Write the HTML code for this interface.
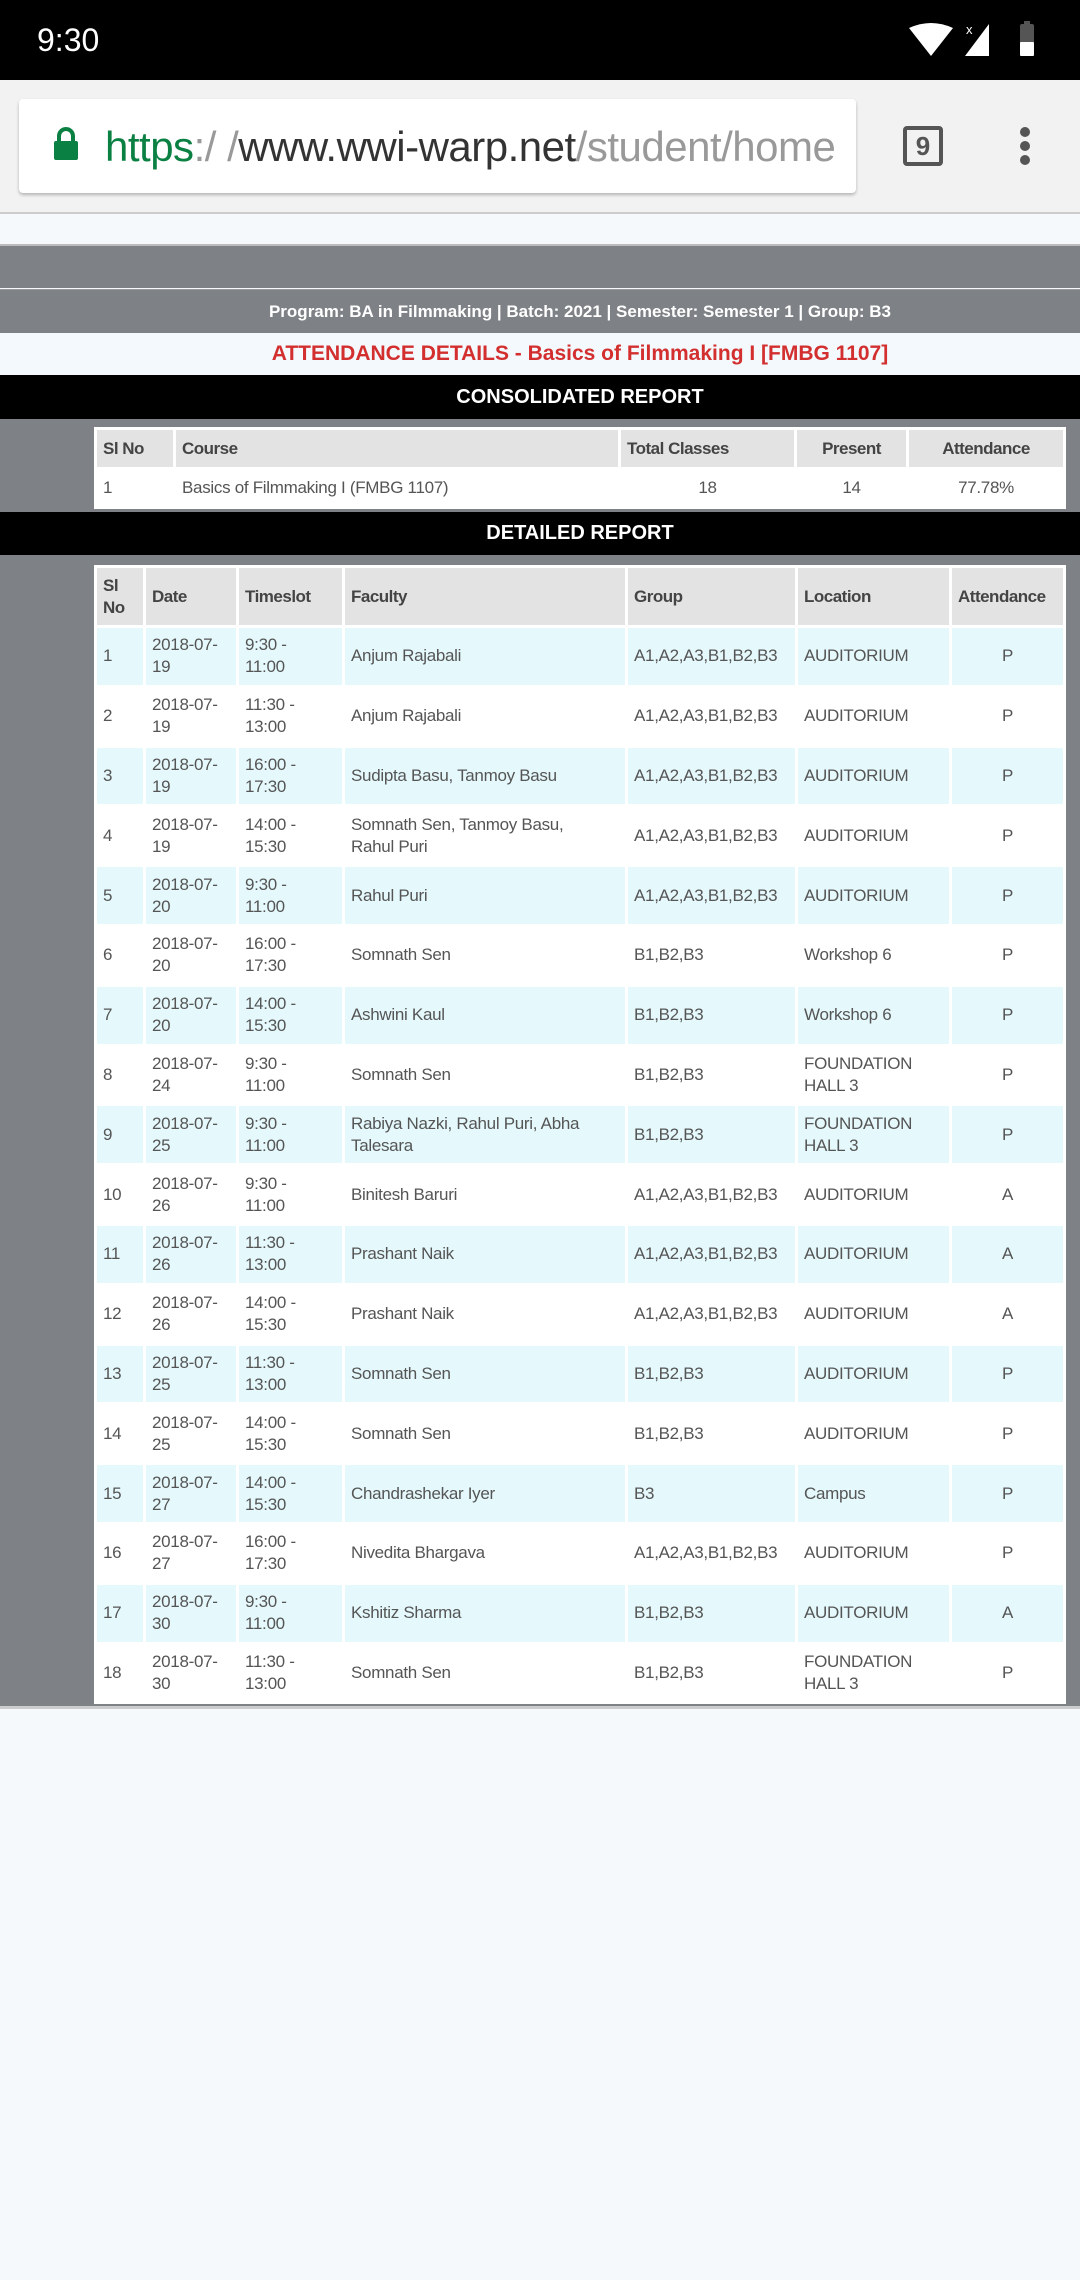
<!DOCTYPE html>
<html><head><meta charset="utf-8"><style>
*{margin:0;padding:0;box-sizing:border-box}
body{width:1080px;height:2280px;background:#f5f9fc;font-family:"Liberation Sans",sans-serif;position:relative;overflow:hidden}
.abs{position:absolute;left:0;width:1080px}
.band{display:flex;align-items:center;justify-content:center;font-weight:bold;padding-left:80px}
table{position:absolute;left:94px;width:972px;border-collapse:separate;border-spacing:3px;background:#fff;table-layout:fixed;font-size:17px;color:#555;letter-spacing:-0.3px}
td,th{padding:0 0 0 6px;text-align:left;vertical-align:middle;line-height:22px}
th{background:#e3e3e3;color:#444;font-weight:bold;letter-spacing:-0.5px}
.c{text-align:center;padding:0}
#det tr.o td{background:#e5f9fd}
#det tr td{height:56.8px}
#det tr th{height:57px}
</style></head><body>
<div class="abs" style="top:0;height:80px;background:#000"></div>
<div style="position:absolute;left:37px;top:22px;color:#fff;font-size:32px">9:30</div>
<svg style="position:absolute;left:905px;top:20px" width="140" height="40">
<path d="M4 8 Q26 -2 48 8 L26 36 Z" fill="#fff"/>
<path d="M60 36 L84 4 L84 36 Z" fill="#fff"/>
<text x="61" y="14" fill="#fff" font-size="13" font-family="Liberation Sans">x</text>
<rect x="115" y="4" width="14" height="32" rx="2" fill="#555"/>
<rect x="115" y="22" width="14" height="14" rx="1" fill="#fff"/>
<rect x="119" y="1" width="6" height="4" fill="#555"/>
</svg>
<div class="abs" style="top:80px;height:134px;background:#f2f2f2;border-bottom:2px solid #ccc"></div>
<div style="position:absolute;left:19px;top:99px;width:837px;height:94px;background:#fff;border-radius:4px;box-shadow:0 2px 3px rgba(0,0,0,.25);overflow:hidden;white-space:nowrap">
<svg style="position:absolute;left:34px;top:28px" width="26" height="36"><path d="M6 14 V9 a7 7 0 0 1 14 0 V14" stroke="#0b8043" stroke-width="4" fill="none"/><rect x="1" y="14" width="24" height="19" rx="2" fill="#0b8043"/></svg>
<div style="position:absolute;left:86px;top:24px;font-size:42px;letter-spacing:-0.5px"><span style="color:#0b8043">https</span><span style="color:#999">:/ /</span><span style="color:#333">www.wwi-warp.net</span><span style="color:#999">/student/home</span></div>
</div>
<div style="position:absolute;left:903px;top:126px;width:40px;height:40px;border:4px solid #555;border-radius:4px;color:#555;font-weight:bold;font-size:26px;text-align:center;line-height:32px">9</div>
<div style="position:absolute;left:1020px;top:127px;width:10px;height:10px;border-radius:50%;background:#555;box-shadow:0 14px 0 #555,0 28px 0 #555"></div>
<div class="abs" style="top:244px;height:44px;background:#7e8286;border-top:2px solid #bbb"></div>
<div class="abs band" style="top:289px;height:44px;background:#7e8286;border-top:1px solid #999;color:#fff;font-size:17px">Program: BA in Filmmaking | Batch: 2021 | Semester: Semester 1 | Group: B3</div>
<div class="abs band" style="top:333px;height:42px;background:#f3f9fd;color:#d32f2f;font-size:21px">ATTENDANCE DETAILS - Basics of Filmmaking I [FMBG 1107]</div>
<div class="abs band" style="top:375px;height:44px;background:#000;color:#fff;font-size:20px">CONSOLIDATED REPORT</div>
<div class="abs" style="top:419px;height:93px;background:#7e8286"></div>
<table style="top:427px">
<colgroup><col style="width:76px"><col style="width:442px"><col style="width:173px"><col style="width:109px"><col style="width:154px"></colgroup>
<tr><th style="height:37px">Sl No</th><th>Course</th><th>Total Classes</th><th class="c">Present</th><th class="c">Attendance</th></tr>
<tr><td style="height:36px">1</td><td>Basics of Filmmaking I (FMBG 1107)</td><td class="c">18</td><td class="c">14</td><td class="c">77.78%</td></tr>
</table>
<div class="abs band" style="top:512px;height:43px;background:#000;color:#fff;font-size:20px">DETAILED REPORT</div>
<div class="abs" style="top:555px;height:1154px;background:#7e8286;border-bottom:3px solid #ccc"></div>
<table id="det" style="top:565px">
<colgroup><col style="width:46px"><col style="width:90px"><col style="width:103px"><col style="width:280px"><col style="width:167px"><col style="width:151px"><col style="width:111px"></colgroup>
<tr><th>Sl<br>No</th><th>Date</th><th>Timeslot</th><th>Faculty</th><th>Group</th><th>Location</th><th>Attendance</th></tr>
<tr class="o"><td>1</td><td>2018-07-<br>19</td><td>9:30 -<br>11:00</td><td>Anjum Rajabali</td><td>A1,A2,A3,B1,B2,B3</td><td>AUDITORIUM</td><td class="c">P</td></tr>
<tr><td>2</td><td>2018-07-<br>19</td><td>11:30 -<br>13:00</td><td>Anjum Rajabali</td><td>A1,A2,A3,B1,B2,B3</td><td>AUDITORIUM</td><td class="c">P</td></tr>
<tr class="o"><td>3</td><td>2018-07-<br>19</td><td>16:00 -<br>17:30</td><td>Sudipta Basu, Tanmoy Basu</td><td>A1,A2,A3,B1,B2,B3</td><td>AUDITORIUM</td><td class="c">P</td></tr>
<tr><td>4</td><td>2018-07-<br>19</td><td>14:00 -<br>15:30</td><td>Somnath Sen, Tanmoy Basu,<br>Rahul Puri</td><td>A1,A2,A3,B1,B2,B3</td><td>AUDITORIUM</td><td class="c">P</td></tr>
<tr class="o"><td>5</td><td>2018-07-<br>20</td><td>9:30 -<br>11:00</td><td>Rahul Puri</td><td>A1,A2,A3,B1,B2,B3</td><td>AUDITORIUM</td><td class="c">P</td></tr>
<tr><td>6</td><td>2018-07-<br>20</td><td>16:00 -<br>17:30</td><td>Somnath Sen</td><td>B1,B2,B3</td><td>Workshop 6</td><td class="c">P</td></tr>
<tr class="o"><td>7</td><td>2018-07-<br>20</td><td>14:00 -<br>15:30</td><td>Ashwini Kaul</td><td>B1,B2,B3</td><td>Workshop 6</td><td class="c">P</td></tr>
<tr><td>8</td><td>2018-07-<br>24</td><td>9:30 -<br>11:00</td><td>Somnath Sen</td><td>B1,B2,B3</td><td>FOUNDATION<br>HALL 3</td><td class="c">P</td></tr>
<tr class="o"><td>9</td><td>2018-07-<br>25</td><td>9:30 -<br>11:00</td><td>Rabiya Nazki, Rahul Puri, Abha<br>Talesara</td><td>B1,B2,B3</td><td>FOUNDATION<br>HALL 3</td><td class="c">P</td></tr>
<tr><td>10</td><td>2018-07-<br>26</td><td>9:30 -<br>11:00</td><td>Binitesh Baruri</td><td>A1,A2,A3,B1,B2,B3</td><td>AUDITORIUM</td><td class="c">A</td></tr>
<tr class="o"><td>11</td><td>2018-07-<br>26</td><td>11:30 -<br>13:00</td><td>Prashant Naik</td><td>A1,A2,A3,B1,B2,B3</td><td>AUDITORIUM</td><td class="c">A</td></tr>
<tr><td>12</td><td>2018-07-<br>26</td><td>14:00 -<br>15:30</td><td>Prashant Naik</td><td>A1,A2,A3,B1,B2,B3</td><td>AUDITORIUM</td><td class="c">A</td></tr>
<tr class="o"><td>13</td><td>2018-07-<br>25</td><td>11:30 -<br>13:00</td><td>Somnath Sen</td><td>B1,B2,B3</td><td>AUDITORIUM</td><td class="c">P</td></tr>
<tr><td>14</td><td>2018-07-<br>25</td><td>14:00 -<br>15:30</td><td>Somnath Sen</td><td>B1,B2,B3</td><td>AUDITORIUM</td><td class="c">P</td></tr>
<tr class="o"><td>15</td><td>2018-07-<br>27</td><td>14:00 -<br>15:30</td><td>Chandrashekar Iyer</td><td>B3</td><td>Campus</td><td class="c">P</td></tr>
<tr><td>16</td><td>2018-07-<br>27</td><td>16:00 -<br>17:30</td><td>Nivedita Bhargava</td><td>A1,A2,A3,B1,B2,B3</td><td>AUDITORIUM</td><td class="c">P</td></tr>
<tr class="o"><td>17</td><td>2018-07-<br>30</td><td>9:30 -<br>11:00</td><td>Kshitiz Sharma</td><td>B1,B2,B3</td><td>AUDITORIUM</td><td class="c">A</td></tr>
<tr><td>18</td><td>2018-07-<br>30</td><td>11:30 -<br>13:00</td><td>Somnath Sen</td><td>B1,B2,B3</td><td>FOUNDATION<br>HALL 3</td><td class="c">P</td></tr>
</table>
</body></html>
